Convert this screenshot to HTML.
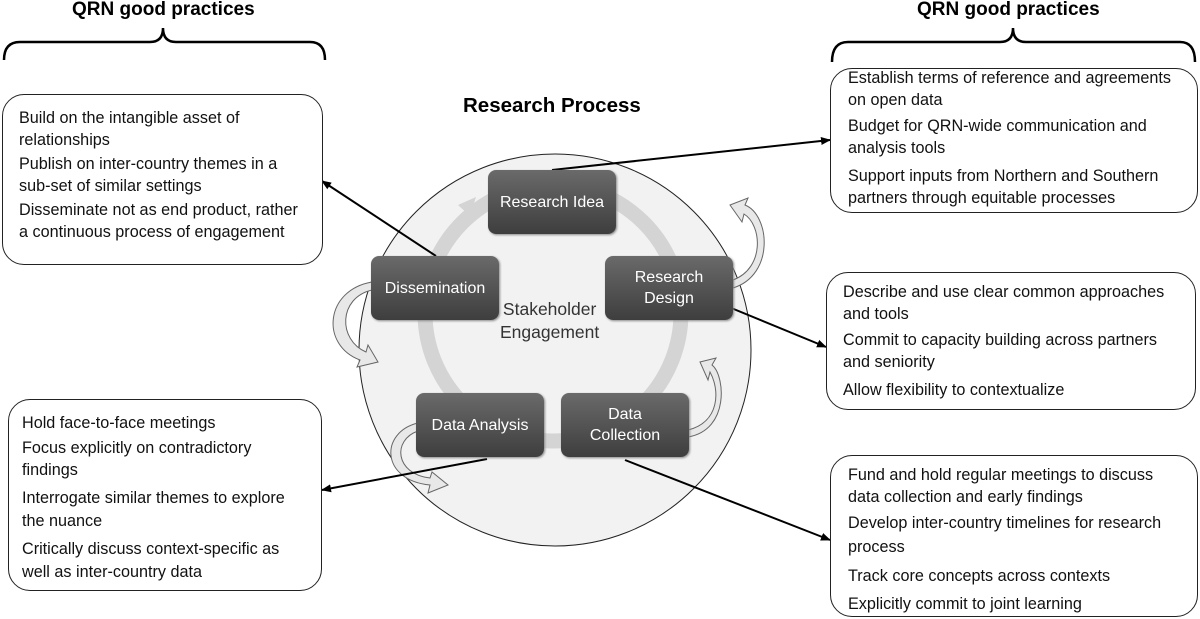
<!DOCTYPE html>
<html><head><meta charset="utf-8"><style>
body{margin:0;background:#fff;width:1200px;height:619px;position:relative;overflow:hidden;font-family:"Liberation Sans",sans-serif;}
.t{position:absolute;font-size:16.2px;line-height:18px;color:#111;white-space:nowrap;}
.box{position:absolute;border:1.5px solid #222;border-radius:22px;box-sizing:border-box;background:#fff;}
.h{position:absolute;font-weight:bold;font-size:19px;white-space:nowrap;}
.n{position:absolute;width:128px;height:64px;border-radius:8px;background:linear-gradient(#6a6a6a,#3e3e3e);color:#fff;font-size:16px;display:flex;align-items:center;justify-content:center;text-align:center;line-height:21px;box-shadow:1px 1px 2px #888;}
</style></head><body>
<svg width="1200" height="619" style="position:absolute;left:0;top:0">
<defs><marker id="a" markerWidth="10" markerHeight="10" refX="9" refY="5" orient="auto" markerUnits="userSpaceOnUse"><path d="M0,1 L10,5 L0,9 z" fill="#000"/></marker></defs>
<path d="M4,60 Q4,42 20,42 L150,42 Q163,42 163,28 Q163,42 176,42 L310,42 Q325,42 325,60" fill="none" stroke="#000" stroke-width="2.5"/>
<path d="M832,62 Q832,42 848,42 L1000,42 Q1013,42 1013,28 Q1013,42 1026,42 L1180,42 Q1195,42 1195,62" fill="none" stroke="#000" stroke-width="2.5"/>
<circle cx="555" cy="350" r="196" fill="#f2f2f2" stroke="#222" stroke-width="1"/>
<circle cx="553" cy="313" r="128" fill="none" stroke="#d4d4d4" stroke-width="15"/>
<path d="M458,205 L476,197 L470,216 z" fill="#d4d4d4"/>
<g fill="#e8e8e8" stroke="#666" stroke-width="1">
<path d="M733,288 C775,275 770,215 745,205 L748,198 L730,205 L742,222 L744,214 C762,225 765,268 733,280 z"/>
<path d="M688,437 C730,430 725,375 712,365 L716,358 L700,362 L708,380 L710,372 C720,390 720,422 688,430 z"/>
<path d="M372,282 C325,290 320,345 360,360 L357,367 L378,362 L368,345 L366,352 C338,340 338,298 372,290 z"/>
<path d="M418,423 C380,432 380,480 430,485 L428,493 L448,485 L432,472 L430,478 C395,474 392,440 418,431 z"/>
</g>
<g stroke="#000" stroke-width="2" fill="none">
<line x1="552" y1="170" x2="830" y2="140" marker-end="url(#a)"/>
<line x1="436" y1="256" x2="322" y2="181" marker-end="url(#a)"/>
<line x1="702" y1="296" x2="826" y2="347" marker-end="url(#a)"/>
<line x1="487" y1="459" x2="322" y2="490" marker-end="url(#a)"/>
<line x1="625" y1="460" x2="830" y2="540" marker-end="url(#a)"/>
</g>
</svg>
<div class="h" style="left:72px;top:-1px">QRN good practices</div>
<div class="h" style="left:917px;top:-1px">QRN good practices</div>
<div class="h" style="left:463px;top:94px;font-size:20.5px">Research Process</div>

<div class="n" style="left:488px;top:170px">Research Idea</div>
<div class="n" style="left:605px;top:256px">Research<br>Design</div>
<div class="n" style="left:371px;top:256px">Dissemination</div>
<div class="n" style="left:416px;top:393px">Data Analysis</div>
<div class="n" style="left:561px;top:393px">Data<br>Collection</div>
<div class="t" style="left:500px;top:298px;font-size:17.5px;line-height:23px;text-align:center;color:#333">Stakeholder<br>Engagement</div>

<div class="box" style="left:2px;top:94px;width:321px;height:171px"></div>
<div class="t" style="left:19px;top:109px">Build on the intangible asset of</div>
<div class="t" style="left:19px;top:131px">relationships</div>
<div class="t" style="left:19px;top:155px">Publish on inter-country themes in a</div>
<div class="t" style="left:19px;top:177px">sub-set of similar settings</div>
<div class="t" style="left:19px;top:201px">Disseminate not as end product, rather</div>
<div class="t" style="left:19px;top:223px">a continuous process of engagement</div>

<div class="box" style="left:8px;top:399px;width:314px;height:192px"></div>
<div class="t" style="left:22px;top:414px">Hold face-to-face meetings</div>
<div class="t" style="left:22px;top:439px">Focus explicitly on contradictory</div>
<div class="t" style="left:22px;top:461px">findings</div>
<div class="t" style="left:22px;top:489px">Interrogate similar themes to explore</div>
<div class="t" style="left:22px;top:512px">the nuance</div>
<div class="t" style="left:22px;top:540px">Critically discuss context-specific as</div>
<div class="t" style="left:22px;top:563px">well as inter-country data</div>

<div class="box" style="left:830px;top:68px;width:368px;height:145px"></div>
<div class="t" style="left:848px;top:69px">Establish terms of reference and agreements</div>
<div class="t" style="left:848px;top:91px">on open data</div>
<div class="t" style="left:848px;top:117px">Budget for QRN-wide communication and</div>
<div class="t" style="left:848px;top:139px">analysis tools</div>
<div class="t" style="left:848px;top:167px">Support inputs from Northern and Southern</div>
<div class="t" style="left:848px;top:189px">partners through equitable processes</div>

<div class="box" style="left:826px;top:272px;width:370px;height:138px"></div>
<div class="t" style="left:843px;top:283px">Describe and use clear common approaches</div>
<div class="t" style="left:843px;top:305px">and tools</div>
<div class="t" style="left:843px;top:331px">Commit to capacity building across partners</div>
<div class="t" style="left:843px;top:353px">and seniority</div>
<div class="t" style="left:843px;top:381px">Allow flexibility to contextualize</div>

<div class="box" style="left:830px;top:455px;width:368px;height:162px"></div>
<div class="t" style="left:848px;top:466px">Fund and hold regular meetings to discuss</div>
<div class="t" style="left:848px;top:488px">data collection and early findings</div>
<div class="t" style="left:848px;top:514px">Develop inter-country timelines for research</div>
<div class="t" style="left:848px;top:538px">process</div>
<div class="t" style="left:848px;top:567px">Track core concepts across contexts</div>
<div class="t" style="left:848px;top:595px">Explicitly commit to joint learning</div>
</body></html>
